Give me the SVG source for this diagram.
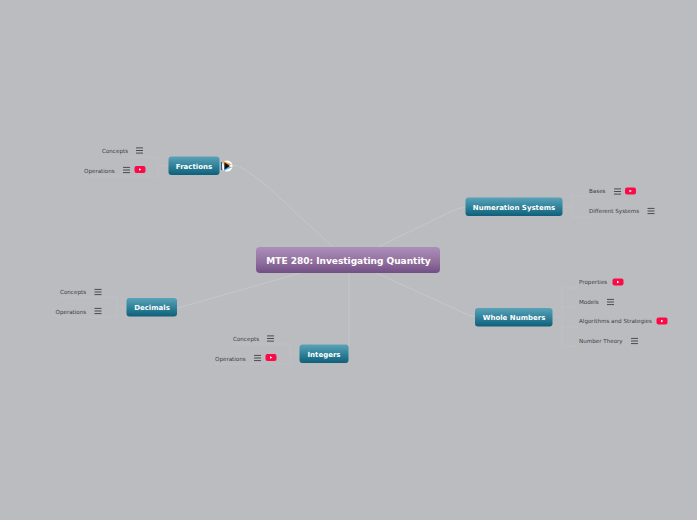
<svg xmlns="http://www.w3.org/2000/svg" width="697" height="520" viewBox="0 0 697 520">
<style>
.c{fill:none;stroke:#c6c7ca;stroke-width:1}
.m{fill:none;stroke:#c1c2c5;stroke-width:.6}
.t{font-family:"DejaVu Sans",sans-serif;font-weight:bold;fill:#fff;text-anchor:middle}
.s{font-family:"DejaVu Sans",sans-serif;font-size:5.6px;fill:#3c3c40;text-anchor:start}
</style>
<defs>
<linearGradient id="b" x1="0" y1="0" x2="0" y2="1"><stop offset="0" stop-color="#5aa3b8"/><stop offset=".55" stop-color="#2d7f98"/><stop offset="1" stop-color="#0f5f78"/></linearGradient>
<linearGradient id="p" x1="0" y1="0" x2="0" y2="1"><stop offset="0" stop-color="#ac8ebb"/><stop offset=".55" stop-color="#93719f"/><stop offset="1" stop-color="#714f84"/></linearGradient>
<g id="h"><path d="M-3.500 -2.600H3.500M-3.500 0H3.500M-3.500 2.600H3.500" stroke="#4a4a4f" stroke-width="1" fill="none"/></g>
<g id="y"><rect x="-5.500" y="-3.500" width="11" height="7" rx="2" fill="#fb0a47"/><path d="M-1 -1.300L1.400 0L-1 1.300Z" fill="#fff"/></g>
</defs>
<rect width="697" height="520" fill="#bbbcc0"/>
<g id="connectors">
<path class="c" d="M334 248L268 187Q243 165 232 165"/>
<path class="c" d="M376 248L450 212Q458 208 466 207"/>
<path class="c" d="M374 272L462 312Q468 315 476 317"/>
<path class="c" d="M349 272V346"/>
<path class="c" d="M304 272L188 305Q182 307 177 308"/>
<path class="m" d="M168 166H158V157H128M158 166V176H84"/>
<path class="m" d="M563 207H572V196H590M572 207V217H590"/>
<path class="m" d="M553 317H562V288H578M562 307H578M562 317V327H578M562 327V346H578"/>
<path class="m" d="M126 307H117V297H60M117 307V317H56"/>
<path class="m" d="M299 354H290V344H233M290 354V364H215"/>
</g>
<g id="n0"><rect x="256" y="247" width="184" height="26" rx="4" fill="url(#p)"/><text class="t" x="348.500" y="264" font-size="9">MTE 280: Investigating Quantity</text></g>
<g id="n1"><rect x="168.500" y="156.500" width="51" height="18.500" rx="3" fill="url(#b)"/><text class="t" x="194" y="169" font-size="7">Fractions</text>
<circle cx="227" cy="166" r="5.500" fill="#fff"/><path d="M223 161L232 164.500L224 166Z" fill="#f59322"/><path d="M224 171L232.500 167L224 166Z" fill="#5fb9e8"/><path d="M224.500 162.500L230 166L224.500 169.500Z" fill="#111"/><path d="M221.500 162V170" stroke="#1d5f9c" stroke-width="1.200"/></g>
<g id="n2"><rect x="465.500" y="197.500" width="97" height="18.500" rx="3" fill="url(#b)"/><text class="t" x="514" y="210" font-size="7">Numeration Systems</text></g>
<g id="n3"><rect x="475" y="308" width="77.500" height="18.500" rx="3" fill="url(#b)"/><text class="t" x="514" y="320" font-size="7">Whole Numbers</text></g>
<g id="n4"><rect x="126.500" y="298" width="50.500" height="18.500" rx="3" fill="url(#b)"/><text class="t" x="152" y="310" font-size="7">Decimals</text></g>
<g id="n5"><rect x="299.500" y="344.500" width="49" height="18.500" rx="3" fill="url(#b)"/><text class="t" x="324" y="357" font-size="7">Integers</text></g>
<g id="n6"><text class="s" x="102" y="152.500">Concepts</text><use href="#h" x="139.500" y="150.500"/></g>
<g id="n7"><text class="s" x="84" y="172.500">Operations</text><use href="#h" x="126.500" y="170"/><use href="#y" x="140" y="169.500"/></g>
<g id="n8"><text class="s" x="589" y="193.200">Bases</text><use href="#h" x="617.500" y="191.500"/><use href="#y" x="630.500" y="191"/></g>
<g id="n9"><text class="s" x="589" y="213.200">Different Systems</text><use href="#h" x="651" y="211"/></g>
<g id="n10"><text class="s" x="579" y="284">Properties</text><use href="#y" x="618" y="282"/></g>
<g id="n11"><text class="s" x="579" y="304">Models</text><use href="#h" x="610.500" y="302"/></g>
<g id="n12"><text class="s" x="579" y="323">Algorithms and Strategies</text><use href="#y" x="662" y="321"/></g>
<g id="n13"><text class="s" x="579" y="343">Number Theory</text><use href="#h" x="634.500" y="341"/></g>
<g id="n14"><text class="s" x="60" y="294">Concepts</text><use href="#h" x="98" y="292"/></g>
<g id="n15"><text class="s" x="55.500" y="314">Operations</text><use href="#h" x="98" y="311"/></g>
<g id="n16"><text class="s" x="233" y="340.500">Concepts</text><use href="#h" x="270.500" y="338.500"/></g>
<g id="n17"><text class="s" x="215" y="360.500">Operations</text><use href="#h" x="257.500" y="358"/><use href="#y" x="271" y="357.500"/></g>
</svg>
